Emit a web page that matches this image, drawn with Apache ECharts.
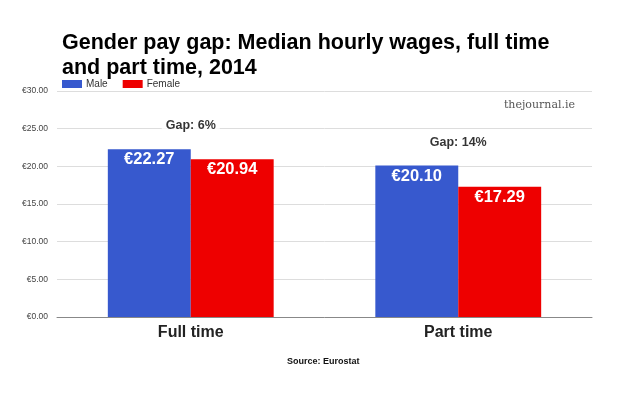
<!DOCTYPE html>
<html>
<head>
<meta charset="utf-8">
<script src="https://cdn.jsdelivr.net/npm/echarts@6/dist/echarts.min.js"></script>
<style>
  html, body { margin: 0; padding: 0; background: #fff; }
  #chart { width: 630px; height: 400px; }
</style>
</head>
<body>
<div id="chart"></div>
<script>
// data
const categories = ['Full time', 'Part time'];
const maleWages = [22.27, 20.10];
const femaleWages = [20.94, 17.29];
const gapLabels = ['Gap: 6%', 'Gap: 14%'];
const yTicks = [0, 5, 10, 15, 20, 25, 30];

const maleColor = '#3759CE';
const femaleColor = '#EE0000';
const font = '"Liberation Sans", Arial, sans-serif';

const chart = echarts.init(document.getElementById('chart'));

const option = {
    backgroundColor: '#fff',
    animation: false,
    title: {
        text: 'Gender pay gap: Median hourly wages, full time\nand part time, 2014',
        left: 57,
        top: 26,
        textStyle: { fontFamily: font, fontWeight: 'bold', fontSize: 21.5, lineHeight: 25, color: '#000' }
    },
    legend: {
        data: ['Male', 'Female'],
        left: 57,
        top: 74,
        itemWidth: 20,
        itemHeight: 8,
        itemGap: 15,
        icon: 'rect',
        textStyle: { fontFamily: font, fontSize: 10, color: '#333', padding: [0, 0, 0, -1] }
    },
    graphic: [
        {
            type: 'text',
            right: 55,
            top: 100,
            style: { text: 'thejournal.ie', font: '11px "DejaVu Serif", "Liberation Serif", serif', fill: '#555' }
        },
        {
            type: 'text',
            left: 287,
            top: 357,
            style: { text: 'Source: Eurostat', font: 'bold 9px "Liberation Sans", Arial, sans-serif', fill: '#111' }
        }
    ],
    grid: { left: 57, right: 38, top: 91, bottom: 83 },
    xAxis: {
        type: 'category',
        data: categories,
        axisTick: { show: false },
        axisLine: { lineStyle: { color: '#888', width: 1 } },
        axisLabel: { fontFamily: font, fontWeight: 'bold', fontSize: 16, color: '#222', margin: 8 }
    },
    yAxis: {
        type: 'value',
        min: yTicks[0],
        max: yTicks[yTicks.length - 1],
        interval: 5,
        axisLine: { show: false },
        axisTick: { show: false },
        splitLine: { lineStyle: { color: '#ddd', width: 1 } },
        axisLabel: {
            fontFamily: font, fontSize: 8.5, color: '#444', margin: 9,
            formatter: (v) => '€' + v.toFixed(2)
        }
    },
    series: [
        {
            name: 'Male',
            type: 'bar',
            data: maleWages,
            barGap: '0%',
            barCategoryGap: '38%',
            itemStyle: { color: maleColor },
            label: {
                show: true, position: 'insideTop', distance: 2,
                fontFamily: font, fontWeight: 'bold', fontSize: 16.5, color: '#fff',
                formatter: (p) => '€' + p.value.toFixed(2)
            }
        },
        {
            name: 'Female',
            type: 'bar',
            data: femaleWages,
            itemStyle: { color: femaleColor },
            label: {
                show: true, position: 'insideTop', distance: 2,
                fontFamily: font, fontWeight: 'bold', fontSize: 16.5, color: '#fff',
                formatter: (p) => '€' + p.value.toFixed(2)
            }
        },
        {
            // gap annotations, anchored on the taller bar of each pair
            type: 'scatter',
            symbolSize: 0,
            silent: true,
            z: 5,
            data: categories.map((c, i) => ({ value: [c, Math.max(maleWages[i], femaleWages[i])], gap: gapLabels[i] })),
            label: {
                show: true, position: 'top', distance: 15,
                fontFamily: font, fontWeight: 'bold', fontSize: 12.5, color: '#000',
                backgroundColor: '#fff', padding: [2, 4],
                formatter: (p) => p.data.gap
            }
        }
    ]
};

chart.setOption(option);
</script>
</body>
</html>
